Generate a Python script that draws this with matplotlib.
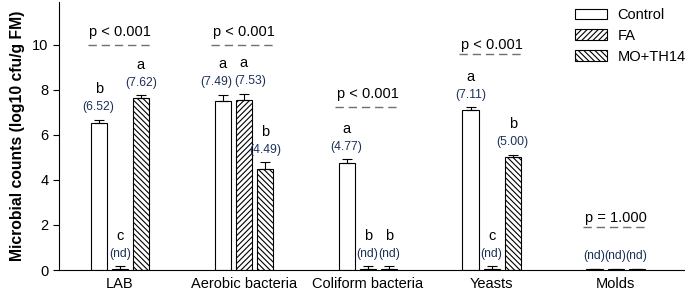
import matplotlib
matplotlib.use("Agg")
import matplotlib.pyplot as plt
import numpy as np

plt.rcParams['font.family'] = ['Liberation Sans', 'DejaVu Sans']
plt.rcParams['hatch.linewidth'] = 0.8

categories = ["LAB", "Aerobic bacteria", "Coliform bacteria", "Yeasts", "Molds"]
series = ["Control", "FA", "MO+TH14"]
control = [6.52, 7.49, 4.77, 7.11, 0.05]
fa = [0.05, 7.53, 0.05, 0.05, 0.05]
mo = [7.62, 4.49, 0.05, 5.00, 0.05]
control_err = [0.15, 0.30, 0.15, 0.12, 0.0]
fa_err = [0.12, 0.30, 0.12, 0.12, 0.0]
mo_err = [0.15, 0.30, 0.12, 0.12, 0.0]
letters = [["b", "c", "a"], ["a", "a", "b"], ["a", "b", "b"], ["a", "c", "b"], ["", "", ""]]
value_labels = [["(6.52)", "(nd)", "(7.62)"], ["(7.49)", "(7.53)", "(4.49)"],
                ["(4.77)", "(nd)", "(nd)"], ["(7.11)", "(nd)", "(5.00)"], ["(nd)", "(nd)", "(nd)"]]
p_texts = ["p < 0.001", "p < 0.001", "p < 0.001", "p < 0.001", "p = 1.000"]
p_text_y = [10.55, 10.55, 7.8, 10.0, 2.3]
dash_y = [10.0, 10.0, 7.25, 9.6, 1.9]

values = [control, fa, mo]
errs = [control_err, fa_err, mo_err]
hatches = [None, "//////", "\\\\\\\\\\\\"]

fig = plt.figure(figsize=(6.85, 2.92), dpi=100)
ax = fig.add_axes([59/685, 22/292, 1 - 59/685, 268/292])

x = np.arange(len(categories))
w = 0.13
off = 0.17
for i, (vals, er, h, name) in enumerate(zip(values, errs, hatches, series)):
    xs = x + (i - 1) * off
    ax.bar(xs, vals, width=w, color='white', edgecolor='black', linewidth=0.8,
           hatch=h, label=name, zorder=2)
    ax.errorbar(xs, vals, yerr=[np.zeros(len(vals)), er], fmt='none', ecolor='black',
                elinewidth=0.8, capsize=3.5, capthick=0.8, zorder=3)
    for j in range(len(categories)):
        top = vals[j] + er[j]
        nudge = 0.0
        # separate the two touching labels over the Aerobic bacteria bars
        if j == 1 and i in (0, 1):
            nudge = -0.055 if i == 0 else 0.055
        ax.text(xs[j] + nudge, top + 0.55, value_labels[j][i], ha='center', va='center',
                fontsize=8.7, color='#1c3158')
        if letters[j][i]:
            ax.text(xs[j], top + 1.35, letters[j][i], ha='center', va='center',
                    fontsize=10.5, color='black')

for j in range(len(categories)):
    ax.text(x[j], p_text_y[j], p_texts[j], ha='center', va='center', fontsize=10.5)
    ax.plot([x[j] - 0.26, x[j] + 0.26], [dash_y[j], dash_y[j]], color='#707070',
            lw=1.0, linestyle=(0, (6, 3.5)))

ax.set_xlim(-0.49, 4.56)
ax.set_ylim(0, 11.9)
ax.set_xticks(x)
ax.set_xticklabels(categories, fontsize=10.5)
ax.tick_params(axis='x', length=0, pad=5)
ax.set_yticks([0, 2, 4, 6, 8, 10])
ax.tick_params(axis='y', labelsize=10.5, length=4, width=0.8, direction='out')
ax.spines['top'].set_visible(False)
ax.spines['right'].set_visible(False)
ax.spines['left'].set_linewidth(0.8)
ax.spines['bottom'].set_linewidth(0.8)
ax.set_ylabel("Microbial counts (log10 cfu/g FM)", fontsize=11.3, fontweight='bold', labelpad=5)

leg = ax.legend(loc='upper left', bbox_to_anchor=(575/685, 1 - 8/292),
                bbox_transform=fig.transFigure, frameon=False, fontsize=10.5,
                handlelength=2.2, handleheight=0.75, handletextpad=0.7,
                labelspacing=0.47, borderpad=0, borderaxespad=0)

fig.savefig("out.png", dpi=100)
